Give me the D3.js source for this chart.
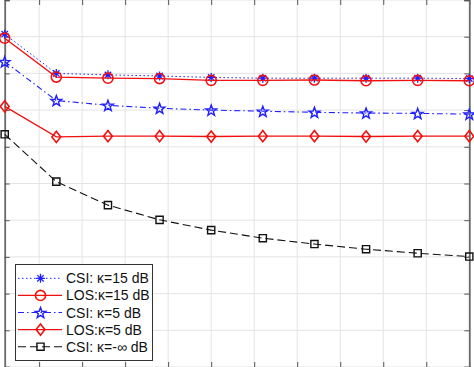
<!DOCTYPE html>
<html>
<head>
<meta charset="utf-8">
<script src="https://cdnjs.cloudflare.com/ajax/libs/d3/7.8.5/d3.min.js"></script>
<style>
  body { margin: 0; background: #fff; }
  svg { display: block; }
  .grid line { stroke: #e4e4e4; stroke-width: 1; }
  .tick line { stroke: #555; stroke-width: 1; }
  .legend text { font-family: "Liberation Sans", Arial, sans-serif; font-size: 14px; fill: #111; }
</style>
</head>
<body>
<div id="chart"></div>
<script>
// chart size
var svgWidth = 474;
var svgHeight = 367;

var plot = { left: 4.7, right: 469.3, top: 0, bottom: 367 };

// data
var xValues = [6, 12, 18, 24, 30, 36, 42, 48, 54, 60];
var xTicks = [10, 15, 20, 25, 30, 35, 40, 45, 50, 55, 60];
var yTicks = [0, 1, 2, 3, 4, 5, 6, 7, 8, 9, 10];

var csi15 = [9.07, 8.00, 7.96, 7.93, 7.89, 7.87, 7.87, 7.87, 7.87, 7.86];
var los15 = [8.96, 7.90, 7.87, 7.86, 7.81, 7.81, 7.82, 7.80, 7.81, 7.80];
var csi5 = [8.32, 7.26, 7.13, 7.05, 7.00, 6.97, 6.94, 6.92, 6.91, 6.89];
var los5 = [7.10, 6.27, 6.29, 6.29, 6.28, 6.29, 6.29, 6.28, 6.29, 6.29];
var csiInf = [6.34, 5.05, 4.41, 4.01, 3.73, 3.51, 3.35, 3.21, 3.10, 3.01];

var seriesNames = ["CSI: κ=15 dB", "LOS:κ=15 dB", "CSI: κ=5 dB", "LOS:κ=5 dB", "CSI: κ=-∞ dB"];

// marker paths, centered at 0,0
var markerPath = {
  asterisk: "M-4.5,0H4.5M0,-4.5V4.5M-3.2,-3.2L3.2,3.2M-3.2,3.2L3.2,-3.2",
  circle: d3.symbol(d3.symbolCircle, 80)(),
  star: (function() {
    var pts = [];
    for (var i = 0; i < 10; i++) {
      var r = i % 2 === 0 ? 5.6 : 2.3;
      var a = -Math.PI / 2 + i * Math.PI / 5;
      pts.push([r * Math.cos(a), r * Math.sin(a) + 0.6]);
    }
    return "M" + pts.join("L") + "Z";
  })(),
  diamond: "M0,-5.6L4.4,0L0,5.6L-4.4,0Z",
  square: "M-3.6,-3.6H3.6V3.6H-3.6Z"
};

var series = [
  { name: seriesNames[0], values: csi15, color: "#2020ff", dash: "1.5,2.5", width: 1, marker: "asterisk" },
  { name: seriesNames[1], values: los15, color: "#f01010", dash: null, width: 1.3, marker: "circle" },
  { name: seriesNames[2], values: csi5, color: "#2020ff", dash: "6,3,1.5,3", width: 1.1, marker: "star" },
  { name: seriesNames[3], values: los5, color: "#f01010", dash: null, width: 1.3, marker: "diamond" },
  { name: seriesNames[4], values: csiInf, color: "#111", dash: "8,4", width: 1.1, marker: "square" }
];

var svg = d3.select("#chart")
  .append("svg")
  .attr("width", svgWidth)
  .attr("height", svgHeight);

var xScale = d3.scaleLinear()
  .domain([6, 60])
  .range([plot.left, plot.right]);

var yScale = d3.scaleLinear()
  .domain([0, 10])
  .range([plot.bottom, plot.top]);

// grid
var grid = svg.append("g").attr("class", "grid");
grid.selectAll(".gx")
  .data(xTicks)
  .enter()
  .append("line")
  .attr("x1", d => xScale(d)).attr("x2", d => xScale(d))
  .attr("y1", plot.top).attr("y2", plot.bottom);
grid.selectAll(".gy")
  .data(yTicks)
  .enter()
  .append("line")
  .attr("x1", plot.left).attr("x2", plot.right)
  .attr("y1", d => yScale(d)).attr("y2", d => yScale(d));

// axes, ticks point inward like matlab
var axTop = svg.append("g")
  .attr("transform", `translate(0, ${plot.top})`)
  .call(d3.axisTop(xScale).tickValues(xTicks).tickSize(-5).tickFormat(""));
var axBottom = svg.append("g")
  .attr("transform", `translate(0, ${plot.bottom})`)
  .call(d3.axisBottom(xScale).tickValues(xTicks).tickSize(-5).tickFormat(""));
var axLeft = svg.append("g")
  .attr("transform", `translate(${plot.left}, 0)`)
  .call(d3.axisLeft(yScale).tickValues(yTicks).tickSize(-5).tickFormat(""));
var axRight = svg.append("g")
  .attr("transform", `translate(${plot.right}, 0)`)
  .call(d3.axisRight(yScale).tickValues(yTicks).tickSize(-5).tickFormat(""));

[axTop, axBottom].forEach(function(a) { a.select(".domain").remove(); });
[axLeft, axRight].forEach(function(a) {
  a.select(".domain").attr("stroke", "#6a6a6a").attr("stroke-width", 1.8);
});

// lines
var line = d3.line()
  .x((d, i) => xScale(xValues[i]))
  .y(d => yScale(d));

series.forEach(function(s) {
  svg.append("path")
    .datum(s.values)
    .attr("fill", "none")
    .attr("stroke", s.color)
    .attr("stroke-width", s.width)
    .attr("stroke-dasharray", s.dash)
    .attr("d", line);

  svg.selectAll(null)
    .data(s.values)
    .enter()
    .append("path")
    .attr("d", markerPath[s.marker])
    .attr("transform", (d, i) => `translate(${xScale(xValues[i])}, ${yScale(d)})`)
    .attr("fill", "none")
    .attr("stroke", s.color)
    .attr("stroke-width", s.width + 0.3);
});

// legend
var legend = svg.append("g").attr("class", "legend");
legend.append("rect")
  .attr("x", 15.5).attr("y", 264.5)
  .attr("width", 137).attr("height", 96)
  .attr("fill", "#fff")
  .attr("stroke", "#333")
  .attr("stroke-width", 1);

var entries = legend.selectAll(".entry")
  .data(series)
  .enter()
  .append("g")
  .attr("transform", (d, i) => `translate(0, ${278.3 + i * 17.1})`);

entries.append("line")
  .attr("x1", 18).attr("x2", 62)
  .attr("stroke", d => d.color)
  .attr("stroke-width", d => d.width)
  .attr("stroke-dasharray", d => d.dash);

entries.append("path")
  .attr("d", d => markerPath[d.marker])
  .attr("transform", "translate(40.5, 0)")
  .attr("fill", "none")
  .attr("stroke", d => d.color)
  .attr("stroke-width", d => d.width + 0.3);

entries.append("text")
  .attr("x", 66)
  .attr("dy", "0.36em")
  .text(d => d.name);
</script>
</body>
</html>
